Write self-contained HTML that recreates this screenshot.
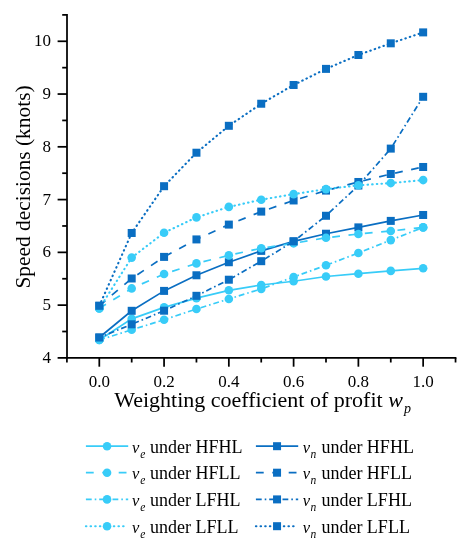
<!DOCTYPE html>
<html><head><meta charset="utf-8"><style>
html,body{margin:0;padding:0;background:#fff;}
svg{display:block;}
text{font-family:"Liberation Serif","Times New Roman",serif;fill:#000;}
.tl{font-size:17px;}
.ti{font-size:21.8px;}
.lg{font-size:18px;}
</style></head><body>
<svg width="473" height="550" viewBox="0 0 473 550">
<rect width="473" height="550" fill="#fff"/>
<polyline points="99.30,340.01 131.69,318.89 164.07,307.38 196.45,298.14 228.84,290.32 261.23,284.99 293.61,281.24 326.00,276.49 358.38,273.69 390.77,270.89 423.15,268.30" fill="none" stroke="#38CCF8" stroke-width="1.7" />
<circle cx="99.30" cy="340.01" r="4.3" fill="#38CCF8"/>
<circle cx="131.69" cy="318.89" r="4.3" fill="#38CCF8"/>
<circle cx="164.07" cy="307.38" r="4.3" fill="#38CCF8"/>
<circle cx="196.45" cy="298.14" r="4.3" fill="#38CCF8"/>
<circle cx="228.84" cy="290.32" r="4.3" fill="#38CCF8"/>
<circle cx="261.23" cy="284.99" r="4.3" fill="#38CCF8"/>
<circle cx="293.61" cy="281.24" r="4.3" fill="#38CCF8"/>
<circle cx="326.00" cy="276.49" r="4.3" fill="#38CCF8"/>
<circle cx="358.38" cy="273.69" r="4.3" fill="#38CCF8"/>
<circle cx="390.77" cy="270.89" r="4.3" fill="#38CCF8"/>
<circle cx="423.15" cy="268.30" r="4.3" fill="#38CCF8"/>
<polyline points="99.30,337.52 131.69,310.81 164.07,290.90 196.45,275.27 228.84,262.23 261.23,250.88 293.61,241.38 326.00,233.72 358.38,227.38 390.77,220.89 423.15,214.98" fill="none" stroke="#0A6EC2" stroke-width="1.7" />
<rect x="95.30" y="333.52" width="8.0" height="8.0" fill="#0A6EC2"/>
<rect x="127.69" y="306.81" width="8.0" height="8.0" fill="#0A6EC2"/>
<rect x="160.07" y="286.90" width="8.0" height="8.0" fill="#0A6EC2"/>
<rect x="192.45" y="271.27" width="8.0" height="8.0" fill="#0A6EC2"/>
<rect x="224.84" y="258.23" width="8.0" height="8.0" fill="#0A6EC2"/>
<rect x="257.23" y="246.88" width="8.0" height="8.0" fill="#0A6EC2"/>
<rect x="289.61" y="237.38" width="8.0" height="8.0" fill="#0A6EC2"/>
<rect x="322.00" y="229.72" width="8.0" height="8.0" fill="#0A6EC2"/>
<rect x="354.38" y="223.38" width="8.0" height="8.0" fill="#0A6EC2"/>
<rect x="386.77" y="216.89" width="8.0" height="8.0" fill="#0A6EC2"/>
<rect x="419.15" y="210.98" width="8.0" height="8.0" fill="#0A6EC2"/>
<polyline points="99.30,308.43 131.69,288.42 164.07,274.01 196.45,263.39 228.84,255.37 261.23,248.29 293.61,243.33 326.00,237.79 358.38,233.98 390.77,230.97 423.15,227.38" fill="none" stroke="#38CCF8" stroke-width="1.7" stroke-dasharray="7.8 8.6"/>
<circle cx="99.30" cy="308.43" r="4.3" fill="#38CCF8"/>
<circle cx="131.69" cy="288.42" r="4.3" fill="#38CCF8"/>
<circle cx="164.07" cy="274.01" r="4.3" fill="#38CCF8"/>
<circle cx="196.45" cy="263.39" r="4.3" fill="#38CCF8"/>
<circle cx="228.84" cy="255.37" r="4.3" fill="#38CCF8"/>
<circle cx="261.23" cy="248.29" r="4.3" fill="#38CCF8"/>
<circle cx="293.61" cy="243.33" r="4.3" fill="#38CCF8"/>
<circle cx="326.00" cy="237.79" r="4.3" fill="#38CCF8"/>
<circle cx="358.38" cy="233.98" r="4.3" fill="#38CCF8"/>
<circle cx="390.77" cy="230.97" r="4.3" fill="#38CCF8"/>
<circle cx="423.15" cy="227.38" r="4.3" fill="#38CCF8"/>
<polyline points="99.30,305.79 131.69,278.49 164.07,256.90 196.45,239.42 228.84,224.59 261.23,211.60 293.61,200.46 326.00,190.58 358.38,181.98 390.77,174.00 423.15,166.98" fill="none" stroke="#0A6EC2" stroke-width="1.7" stroke-dasharray="7.8 8.6"/>
<rect x="95.30" y="301.79" width="8.0" height="8.0" fill="#0A6EC2"/>
<rect x="127.69" y="274.49" width="8.0" height="8.0" fill="#0A6EC2"/>
<rect x="160.07" y="252.90" width="8.0" height="8.0" fill="#0A6EC2"/>
<rect x="192.45" y="235.42" width="8.0" height="8.0" fill="#0A6EC2"/>
<rect x="224.84" y="220.59" width="8.0" height="8.0" fill="#0A6EC2"/>
<rect x="257.23" y="207.60" width="8.0" height="8.0" fill="#0A6EC2"/>
<rect x="289.61" y="196.46" width="8.0" height="8.0" fill="#0A6EC2"/>
<rect x="322.00" y="186.58" width="8.0" height="8.0" fill="#0A6EC2"/>
<rect x="354.38" y="177.98" width="8.0" height="8.0" fill="#0A6EC2"/>
<rect x="386.77" y="170.00" width="8.0" height="8.0" fill="#0A6EC2"/>
<rect x="419.15" y="162.98" width="8.0" height="8.0" fill="#0A6EC2"/>
<polyline points="99.30,340.01 131.69,329.82 164.07,319.78 196.45,309.01 228.84,298.98 261.23,288.90 293.61,277.02 326.00,265.29 358.38,252.99 390.77,240.11 423.15,227.38" fill="none" stroke="#38CCF8" stroke-width="1.7" stroke-dasharray="5.8 3.0 1.6 2.9" stroke-dashoffset="0"/>
<circle cx="99.30" cy="340.01" r="4.3" fill="#38CCF8"/>
<circle cx="131.69" cy="329.82" r="4.3" fill="#38CCF8"/>
<circle cx="164.07" cy="319.78" r="4.3" fill="#38CCF8"/>
<circle cx="196.45" cy="309.01" r="4.3" fill="#38CCF8"/>
<circle cx="228.84" cy="298.98" r="4.3" fill="#38CCF8"/>
<circle cx="261.23" cy="288.90" r="4.3" fill="#38CCF8"/>
<circle cx="293.61" cy="277.02" r="4.3" fill="#38CCF8"/>
<circle cx="326.00" cy="265.29" r="4.3" fill="#38CCF8"/>
<circle cx="358.38" cy="252.99" r="4.3" fill="#38CCF8"/>
<circle cx="390.77" cy="240.11" r="4.3" fill="#38CCF8"/>
<circle cx="423.15" cy="227.38" r="4.3" fill="#38CCF8"/>
<polyline points="99.30,337.52 131.69,324.32 164.07,310.70 196.45,295.81 228.84,279.71 261.23,261.18 293.61,241.38 326.00,215.77 358.38,185.51 390.77,148.61 423.15,96.81" fill="none" stroke="#0A6EC2" stroke-width="1.7" stroke-dasharray="5.8 3.0 1.6 2.9" stroke-dashoffset="3.0"/>
<rect x="95.30" y="333.52" width="8.0" height="8.0" fill="#0A6EC2"/>
<rect x="127.69" y="320.32" width="8.0" height="8.0" fill="#0A6EC2"/>
<rect x="160.07" y="306.70" width="8.0" height="8.0" fill="#0A6EC2"/>
<rect x="192.45" y="291.81" width="8.0" height="8.0" fill="#0A6EC2"/>
<rect x="224.84" y="275.71" width="8.0" height="8.0" fill="#0A6EC2"/>
<rect x="257.23" y="257.18" width="8.0" height="8.0" fill="#0A6EC2"/>
<rect x="289.61" y="237.38" width="8.0" height="8.0" fill="#0A6EC2"/>
<rect x="322.00" y="211.77" width="8.0" height="8.0" fill="#0A6EC2"/>
<rect x="354.38" y="181.51" width="8.0" height="8.0" fill="#0A6EC2"/>
<rect x="386.77" y="144.61" width="8.0" height="8.0" fill="#0A6EC2"/>
<rect x="419.15" y="92.81" width="8.0" height="8.0" fill="#0A6EC2"/>
<polyline points="99.30,308.43 131.69,257.59 164.07,232.72 196.45,217.40 228.84,206.90 261.23,199.72 293.61,194.12 326.00,189.10 358.38,185.30 390.77,183.08 423.15,180.08" fill="none" stroke="#38CCF8" stroke-width="2.1" stroke-dasharray="0.5 4.15" stroke-linecap="round"/>
<circle cx="99.30" cy="308.43" r="4.3" fill="#38CCF8"/>
<circle cx="131.69" cy="257.59" r="4.3" fill="#38CCF8"/>
<circle cx="164.07" cy="232.72" r="4.3" fill="#38CCF8"/>
<circle cx="196.45" cy="217.40" r="4.3" fill="#38CCF8"/>
<circle cx="228.84" cy="206.90" r="4.3" fill="#38CCF8"/>
<circle cx="261.23" cy="199.72" r="4.3" fill="#38CCF8"/>
<circle cx="293.61" cy="194.12" r="4.3" fill="#38CCF8"/>
<circle cx="326.00" cy="189.10" r="4.3" fill="#38CCF8"/>
<circle cx="358.38" cy="185.30" r="4.3" fill="#38CCF8"/>
<circle cx="390.77" cy="183.08" r="4.3" fill="#38CCF8"/>
<circle cx="423.15" cy="180.08" r="4.3" fill="#38CCF8"/>
<polyline points="99.30,305.79 131.69,232.98 164.07,186.20 196.45,152.72 228.84,125.80 261.23,103.73 293.61,84.98 326.00,68.88 358.38,54.99 390.77,43.32 423.15,32.39" fill="none" stroke="#0A6EC2" stroke-width="2.1" stroke-dasharray="0.5 4.15" stroke-linecap="round"/>
<rect x="95.30" y="301.79" width="8.0" height="8.0" fill="#0A6EC2"/>
<rect x="127.69" y="228.98" width="8.0" height="8.0" fill="#0A6EC2"/>
<rect x="160.07" y="182.20" width="8.0" height="8.0" fill="#0A6EC2"/>
<rect x="192.45" y="148.72" width="8.0" height="8.0" fill="#0A6EC2"/>
<rect x="224.84" y="121.80" width="8.0" height="8.0" fill="#0A6EC2"/>
<rect x="257.23" y="99.73" width="8.0" height="8.0" fill="#0A6EC2"/>
<rect x="289.61" y="80.98" width="8.0" height="8.0" fill="#0A6EC2"/>
<rect x="322.00" y="64.88" width="8.0" height="8.0" fill="#0A6EC2"/>
<rect x="354.38" y="50.99" width="8.0" height="8.0" fill="#0A6EC2"/>
<rect x="386.77" y="39.32" width="8.0" height="8.0" fill="#0A6EC2"/>
<rect x="419.15" y="28.39" width="8.0" height="8.0" fill="#0A6EC2"/>
<line x1="67.0" y1="14.02" x2="67.0" y2="358.77" stroke="#000" stroke-width="1.75"/>
<line x1="66.125" y1="357.9" x2="456.41" y2="357.9" stroke="#000" stroke-width="1.75"/>
<line x1="57.60" y1="357.90" x2="67.0" y2="357.90" stroke="#000" stroke-width="1.75"/>
<line x1="62.20" y1="331.51" x2="67.0" y2="331.51" stroke="#000" stroke-width="1.75"/>
<line x1="57.60" y1="305.13" x2="67.0" y2="305.13" stroke="#000" stroke-width="1.75"/>
<line x1="62.20" y1="278.75" x2="67.0" y2="278.75" stroke="#000" stroke-width="1.75"/>
<line x1="57.60" y1="252.36" x2="67.0" y2="252.36" stroke="#000" stroke-width="1.75"/>
<line x1="62.20" y1="225.97" x2="67.0" y2="225.97" stroke="#000" stroke-width="1.75"/>
<line x1="57.60" y1="199.59" x2="67.0" y2="199.59" stroke="#000" stroke-width="1.75"/>
<line x1="62.20" y1="173.20" x2="67.0" y2="173.20" stroke="#000" stroke-width="1.75"/>
<line x1="57.60" y1="146.82" x2="67.0" y2="146.82" stroke="#000" stroke-width="1.75"/>
<line x1="62.20" y1="120.43" x2="67.0" y2="120.43" stroke="#000" stroke-width="1.75"/>
<line x1="57.60" y1="94.05" x2="67.0" y2="94.05" stroke="#000" stroke-width="1.75"/>
<line x1="62.20" y1="67.66" x2="67.0" y2="67.66" stroke="#000" stroke-width="1.75"/>
<line x1="57.60" y1="41.28" x2="67.0" y2="41.28" stroke="#000" stroke-width="1.75"/>
<line x1="62.20" y1="14.89" x2="67.0" y2="14.89" stroke="#000" stroke-width="1.75"/>
<line x1="66.91" y1="357.9" x2="66.91" y2="362.50" stroke="#000" stroke-width="1.75"/>
<line x1="99.30" y1="357.9" x2="99.30" y2="366.70" stroke="#000" stroke-width="1.75"/>
<line x1="131.69" y1="357.9" x2="131.69" y2="362.50" stroke="#000" stroke-width="1.75"/>
<line x1="164.07" y1="357.9" x2="164.07" y2="366.70" stroke="#000" stroke-width="1.75"/>
<line x1="196.45" y1="357.9" x2="196.45" y2="362.50" stroke="#000" stroke-width="1.75"/>
<line x1="228.84" y1="357.9" x2="228.84" y2="366.70" stroke="#000" stroke-width="1.75"/>
<line x1="261.23" y1="357.9" x2="261.23" y2="362.50" stroke="#000" stroke-width="1.75"/>
<line x1="293.61" y1="357.9" x2="293.61" y2="366.70" stroke="#000" stroke-width="1.75"/>
<line x1="326.00" y1="357.9" x2="326.00" y2="362.50" stroke="#000" stroke-width="1.75"/>
<line x1="358.38" y1="357.9" x2="358.38" y2="366.70" stroke="#000" stroke-width="1.75"/>
<line x1="390.77" y1="357.9" x2="390.77" y2="362.50" stroke="#000" stroke-width="1.75"/>
<line x1="423.15" y1="357.9" x2="423.15" y2="366.70" stroke="#000" stroke-width="1.75"/>
<line x1="455.54" y1="357.9" x2="455.54" y2="362.50" stroke="#000" stroke-width="1.75"/>
<text transform="translate(51.0,362.90) scale(1,1.0)" text-anchor="end" class="tl">4</text>
<text transform="translate(51.0,310.13) scale(1,1.0)" text-anchor="end" class="tl">5</text>
<text transform="translate(51.0,257.36) scale(1,1.0)" text-anchor="end" class="tl">6</text>
<text transform="translate(51.0,204.59) scale(1,1.0)" text-anchor="end" class="tl">7</text>
<text transform="translate(51.0,151.82) scale(1,1.0)" text-anchor="end" class="tl">8</text>
<text transform="translate(51.0,99.05) scale(1,1.0)" text-anchor="end" class="tl">9</text>
<text transform="translate(51.0,46.28) scale(1,1.0)" text-anchor="end" class="tl">10</text>
<text transform="translate(99.30,386.5) scale(1,1.045)" text-anchor="middle" class="tl">0.0</text>
<text transform="translate(164.07,386.5) scale(1,1.045)" text-anchor="middle" class="tl">0.2</text>
<text transform="translate(228.84,386.5) scale(1,1.045)" text-anchor="middle" class="tl">0.4</text>
<text transform="translate(293.61,386.5) scale(1,1.045)" text-anchor="middle" class="tl">0.6</text>
<text transform="translate(358.38,386.5) scale(1,1.045)" text-anchor="middle" class="tl">0.8</text>
<text transform="translate(423.15,386.5) scale(1,1.045)" text-anchor="middle" class="tl">1.0</text>
<text class="ti" style="font-size:21.4px" transform="translate(29.8,288.6) rotate(-90)">Speed decisions (knots)</text>
<text class="ti" style="font-size:22px" x="114.2" y="407.4">Weighting coefficient of profit <tspan font-style="italic">w</tspan><tspan font-style="italic" font-size="14" dx="1.2" dy="5.8">p</tspan></text>
<line x1="85.90" y1="446.2" x2="128.20" y2="446.2" stroke="#38CCF8" stroke-width="1.7" />
<circle cx="107.05" cy="446.20" r="4.3" fill="#38CCF8"/>
<text x="132.10" y="452.70" class="lg" font-style="italic" style="font-size:16.5px">v</text>
<text x="140.20" y="457.70" class="lg" font-style="italic" style="font-size:11.5px">e</text>
<text x="150.00" y="452.70" class="lg">under HFHL</text>
<line x1="85.90" y1="472.7" x2="128.20" y2="472.7" stroke="#38CCF8" stroke-width="1.7" stroke-dasharray="7.8 8.6"/>
<circle cx="107.05" cy="472.70" r="4.3" fill="#38CCF8"/>
<text x="132.10" y="479.20" class="lg" font-style="italic" style="font-size:16.5px">v</text>
<text x="140.20" y="484.20" class="lg" font-style="italic" style="font-size:11.5px">e</text>
<text x="150.00" y="479.20" class="lg">under HFLL</text>
<line x1="85.90" y1="499.4" x2="128.20" y2="499.4" stroke="#38CCF8" stroke-width="1.7" stroke-dasharray="5.8 3.0 1.6 2.9" stroke-dashoffset="0"/>
<circle cx="107.05" cy="499.40" r="4.3" fill="#38CCF8"/>
<text x="132.10" y="505.90" class="lg" font-style="italic" style="font-size:16.5px">v</text>
<text x="140.20" y="510.90" class="lg" font-style="italic" style="font-size:11.5px">e</text>
<text x="150.00" y="505.90" class="lg">under LFHL</text>
<line x1="85.90" y1="526.2" x2="126.70" y2="526.2" stroke="#38CCF8" stroke-width="2.1" stroke-dasharray="0.5 4.15" stroke-linecap="round"/>
<circle cx="107.05" cy="526.20" r="4.3" fill="#38CCF8"/>
<text x="132.10" y="532.70" class="lg" font-style="italic" style="font-size:16.5px">v</text>
<text x="140.20" y="537.70" class="lg" font-style="italic" style="font-size:11.5px">e</text>
<text x="150.00" y="532.70" class="lg">under LFLL</text>
<line x1="255.90" y1="446.2" x2="298.20" y2="446.2" stroke="#0A6EC2" stroke-width="1.7" />
<rect x="273.05" y="442.20" width="8.0" height="8.0" fill="#0A6EC2"/>
<text x="302.80" y="452.70" class="lg" font-style="italic" style="font-size:16.5px">v</text>
<text x="310.50" y="457.70" class="lg" font-style="italic" style="font-size:11.5px">n</text>
<text x="321.40" y="452.70" class="lg">under HFHL</text>
<line x1="255.90" y1="472.7" x2="298.20" y2="472.7" stroke="#0A6EC2" stroke-width="1.7" stroke-dasharray="7.8 8.6"/>
<rect x="273.05" y="468.70" width="8.0" height="8.0" fill="#0A6EC2"/>
<text x="302.80" y="479.20" class="lg" font-style="italic" style="font-size:16.5px">v</text>
<text x="310.50" y="484.20" class="lg" font-style="italic" style="font-size:11.5px">n</text>
<text x="321.40" y="479.20" class="lg">under HFLL</text>
<line x1="255.90" y1="499.4" x2="298.20" y2="499.4" stroke="#0A6EC2" stroke-width="1.7" stroke-dasharray="5.8 3.0 1.6 2.9" stroke-dashoffset="0"/>
<rect x="273.05" y="495.40" width="8.0" height="8.0" fill="#0A6EC2"/>
<text x="302.80" y="505.90" class="lg" font-style="italic" style="font-size:16.5px">v</text>
<text x="310.50" y="510.90" class="lg" font-style="italic" style="font-size:11.5px">n</text>
<text x="321.40" y="505.90" class="lg">under LFHL</text>
<line x1="255.90" y1="526.2" x2="296.70" y2="526.2" stroke="#0A6EC2" stroke-width="2.1" stroke-dasharray="0.5 4.15" stroke-linecap="round"/>
<rect x="273.05" y="522.20" width="8.0" height="8.0" fill="#0A6EC2"/>
<text x="302.80" y="532.70" class="lg" font-style="italic" style="font-size:16.5px">v</text>
<text x="310.50" y="537.70" class="lg" font-style="italic" style="font-size:11.5px">n</text>
<text x="321.40" y="532.70" class="lg">under LFLL</text>
</svg>
</body></html>
